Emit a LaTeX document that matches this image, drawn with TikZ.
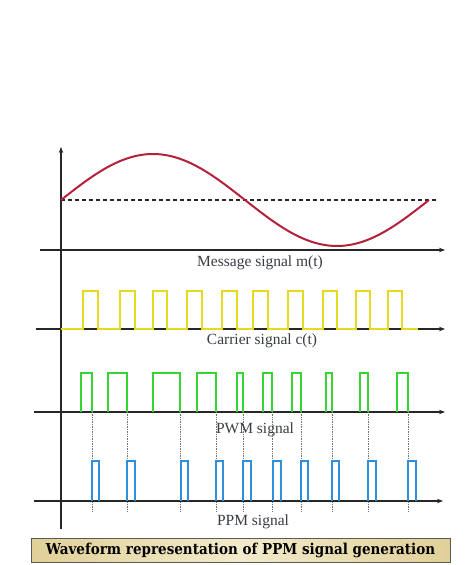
\documentclass[tikz,border=0pt]{standalone}
\usepackage{fontspec}
\setmainfont{Liberation Serif}
\newfontfamily\capfont{DejaVu Serif}
\usetikzlibrary{arrows.meta}
\definecolor{msgred}{HTML}{B3213B}
\definecolor{caryel}{HTML}{E6DA1E}
\definecolor{pwmgrn}{HTML}{35D435}
\definecolor{ppmblu}{HTML}{2E8FDA}
\definecolor{labgray}{HTML}{383C44}
\definecolor{boxtan}{HTML}{E0D098}
\definecolor{boxlight}{HTML}{F2EACB}
\definecolor{boxedge}{HTML}{5A5A56}
\begin{document}
\begin{tikzpicture}[x=1pt,y=-1pt,
  axis/.style={line width=1.4pt, black!85, -{Stealth[length=6pt,width=4.5pt]}},
  lab/.style={font=\fontsize{15.5}{17}\selectfont, text=labgray, inner sep=0pt},
  sig/.style={line width=1.8pt, line join=miter},
  guide/.style={black!55, densely dotted, line width=0.7pt}]
\useasboundingbox (0,0) rectangle (474,565);
\fill[white] (0,0) rectangle (474,565);
% vertical axis
\coordinate (vb) at (61,529); \coordinate (vt) at (61,147);
\draw[axis] (vb) -- (vt);
% horizontal axes
\coordinate (m0) at (40,250);  \coordinate (m1) at (445,250);
\coordinate (c0) at (36,329);  \coordinate (c1) at (445,329);
\coordinate (w0) at (34,412);  \coordinate (w1) at (445,412);
\coordinate (p0) at (34,501);  \coordinate (p1) at (443,501);
\draw[axis] (m0) -- (m1);
\draw[axis] (c0) -- (c1);
\draw[axis] (w0) -- (w1);
\draw[axis] (p0) -- (p1);
% message signal
\coordinate (d0) at (61,200); \coordinate (d1) at (438,200);
\draw[black!85, line width=1.1pt, dash pattern=on 4pt off 3pt] (d0) -- (d1);
\draw[msgred, line width=2pt, domain=0:368, samples=120, smooth]
  plot ({61+\x}, {200 - 46*sin(0.978261*\x)});
% carrier
\draw[caryel, sig] (61,329)
  foreach \a/\b in {83/98,120/135,153/167,187/202,222/237,253/268,288/303,323/337,356/370,388/402}
  { -- (\a,329) -- (\a,291) -- (\b,291) -- (\b,329) } -- (418,329);
% guides
\foreach \g in {92,127,180,216,243,272,301,332,368,408}
  \draw[guide] (\g,412) -- (\g,512);
% PWM
\foreach \a/\b in {81/92,108/127,153/180,197/216,237/243,263/272,292/301,326/332,360/368,397/408}
  \draw[pwmgrn, sig] (\a,412) -- (\a,373) -- (\b,373) -- (\b,412);
% PPM
\foreach \a/\b in {92/99,127/135,181/188,216/223,243/251,273/281,301/308,332/339,368/376,408/416}
  \draw[ppmblu, sig] (\a,501) -- (\a,461) -- (\b,461) -- (\b,501);
% labels
\node[lab] (mlab) at (260,263) {Message signal m(t)};
\node[lab] (clab) at (262,341) {Carrier signal c(t)};
\node[lab] (wlab) at (255,430) {PWM signal};
\node[lab] (plab) at (253,522) {PPM signal};
% caption
\node[draw=boxedge, line width=0.9pt, left color=boxtan, right color=boxtan, middle color=boxlight,
      minimum width=419pt, minimum height=24pt, inner sep=0pt,
      font=\capfont\bfseries\fontsize{15}{17}\selectfont] (cap) at (240.5,550)
  {\scalebox{0.9}[1]{Waveform representation of PPM signal generation}};
\end{tikzpicture}
\end{document}
